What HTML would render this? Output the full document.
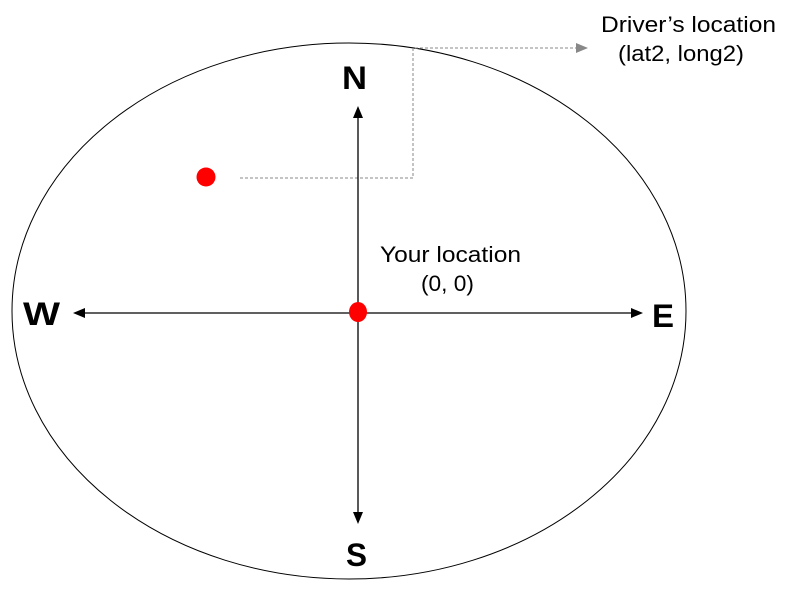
<!DOCTYPE html>
<html><head><style>body{margin:0;background:#fff}svg{display:block}</style></head><body>
<svg width="785" height="593" viewBox="0 0 785 593" xmlns="http://www.w3.org/2000/svg">
<ellipse cx="349" cy="311" rx="337" ry="268" fill="none" stroke="#000" stroke-width="1"/>
<polyline points="240,178 413,178 413,48 578,48" fill="none" stroke="#888" stroke-width="1" stroke-dasharray="3,2"/>
<polygon points="576,43 588,48 576,53" fill="#888"/>
<line x1="358" y1="115" x2="358" y2="515" stroke="#000" stroke-width="1.3"/>
<polygon points="358,106 353,118 363,118" fill="#000"/>
<polygon points="358,524 353,512 363,512" fill="#000"/>
<line x1="82" y1="313" x2="634" y2="313" stroke="#000" stroke-width="1.3"/>
<polygon points="73,313 85,308 85,318" fill="#000"/>
<polygon points="643,313 631,308 631,318" fill="#000"/>
<ellipse cx="358" cy="312" rx="9" ry="10" fill="#f00"/>
<circle cx="206" cy="177" r="9.5" fill="#f00"/>
<g font-family="Liberation Sans, sans-serif" font-weight="bold" font-size="32" fill="#000">
<text x="342" y="89" textLength="25" lengthAdjust="spacingAndGlyphs">N</text>
<text x="23" y="325" textLength="37" lengthAdjust="spacingAndGlyphs">W</text>
<text x="652" y="327" textLength="22" lengthAdjust="spacingAndGlyphs">E</text>
<text x="346" y="566" textLength="21" lengthAdjust="spacingAndGlyphs">S</text>
</g>
<g font-family="Liberation Sans, sans-serif" font-size="22" fill="#000">
<text x="380" y="262" textLength="141" lengthAdjust="spacingAndGlyphs">Your location</text>
<text x="421" y="291" textLength="53" lengthAdjust="spacingAndGlyphs">(0, 0)</text>
<text x="601" y="32" textLength="175" lengthAdjust="spacingAndGlyphs">Driver’s location</text>
<text x="618" y="61" textLength="126" lengthAdjust="spacingAndGlyphs">(lat2, long2)</text>
</g>
</svg>
</body></html>
